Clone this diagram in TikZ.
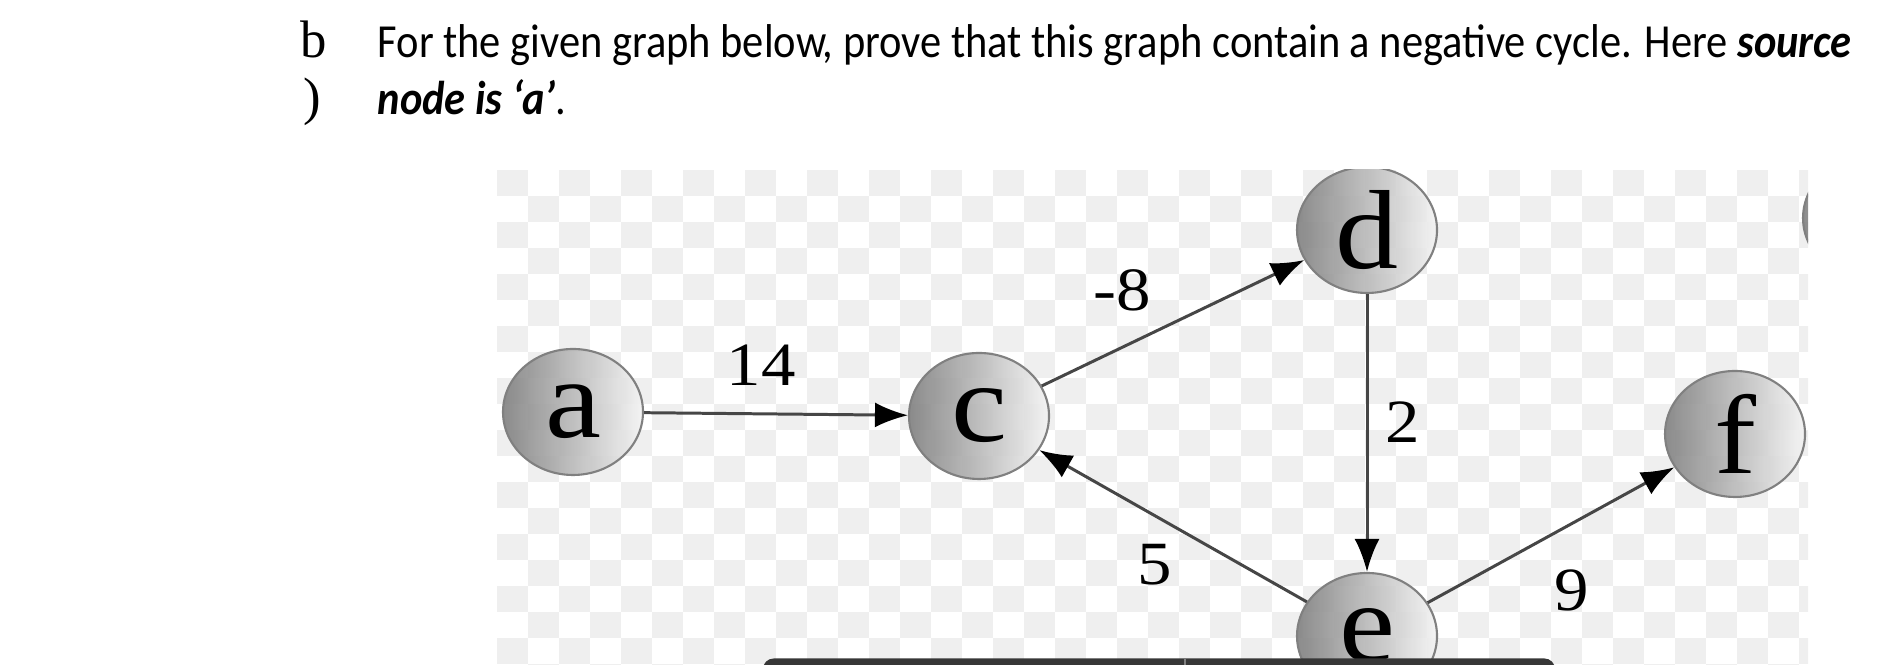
\documentclass[tikz,border=0pt]{standalone}
\usepackage{fontspec}
\setmainfont{Carlito}
\newfontfamily\graphfont{Liberation Serif}
\usepackage{xcolor}
\usepackage{graphicx}
\usepackage{tikz}
\usetikzlibrary{positioning}
\usetikzlibrary{arrows.meta}
\usetikzlibrary{shapes.geometric}
\definecolor{checker}{RGB}{239,239,239}
\definecolor{nodedark}{RGB}{130,130,130}
\definecolor{nodelight}{RGB}{243,243,243}
\definecolor{edgegray}{RGB}{70,70,70}
\definecolor{barcolor}{RGB}{55,55,55}
\newcommand{\wide}[1]{\scalebox{1.12}[1]{#1}}
\newcommand{\narrow}[1]{\scalebox{0.895}[1]{#1}}

\begin{document}
\begin{tikzpicture}
        \tikzset{vertex/.style = {ellipse, draw=gray, line width=0.6pt, left color=nodedark, right color=nodelight, fill opacity=0.92, text opacity=1, minimum width=1.4cm, minimum height=1.26cm, inner sep=0pt, font=\graphfont\fontsize{32}{32}\selectfont}}
        \tikzset{edge/.style = {-{Latex[length=3.3mm,width=2.5mm,color=black]}, edgegray, line width=0.85pt}}
        \tikzset{weight/.style = {font=\graphfont\fontsize{17.5}{17.5}\selectfont}}

        \useasboundingbox (0,0) rectangle (19,6.65);

        % question
        \node[anchor=base west, inner sep=0, font=\graphfont\fontsize{15}{15}\selectfont] (item) at (3.0,6.07) {b};
        \node[anchor=base west, inner sep=0, font=\graphfont\fontsize{15}{15}\selectfont] (paren) at (3.03,5.5) {)};
        \node[anchor=base west, inner sep=0, font=\fontsize{13.5}{15}\selectfont] (line1) at (3.77,6.07) {\narrow{For the given graph below, prove that this graph contain a negative cycle. Here \textbf{\textit{source}}}};
        \node[anchor=base west, inner sep=0, font=\fontsize{13.5}{15}\selectfont] (line2) at (3.77,5.5) {\narrow{\textbf{\textit{node is ‘a’}}.}};

        % checker background
        \begin{scope}
        \clip (4.97,0) rectangle (18.08,4.95);
        \foreach \i in {0,2,...,42} {
          \foreach \j in {0,2,...,18} {
            \fill[checker] ({4.97+\i*0.31},{4.95-\j*0.26}) rectangle ++(0.31,-0.26);
            \fill[checker] ({4.97+(\i+1)*0.31},{4.95-(\j+1)*0.26}) rectangle ++(0.31,-0.26);
          }
        }

        % vertices
        \node[vertex] (a) at (5.73,2.53) {\wide{a}};
        \node[vertex] (c) at (9.79,2.49) {\wide{c}};
        \node[vertex] (d) at (13.67,4.35) {\wide{d}};
        \node[vertex] (e) at (13.67,0.29) {\wide{e}};
        \node[vertex] (f) at (17.35,2.31) {\wide{f}};
        \node[vertex] (g) at (18.73,4.47) {};

        % edges
        \draw[edge] (a) -- (c);
        \draw[edge] (c) -- (d);
        \draw[edge] (d) -- (e);
        \draw[edge] (e) -- (c);
        \draw[edge] (e) -- (f);

        % weights
        \node[weight] (w14) at (7.61,3.0) {\wide{14}};
        \node[weight] (w8) at (11.22,3.75) {\wide{-8}};
        \node[weight] (w2) at (14.03,2.43) {\wide{2}};
        \node[weight] (w5) at (11.55,1.0) {\wide{5}};
        \node[weight] (w9) at (15.72,0.75) {\wide{9}};
        \end{scope}

        % bar at bottom
        \fill[barcolor, rounded corners=3pt] (7.63,-0.2) rectangle (15.55,0.065);
        \draw[gray] (11.85,0) -- (11.85,0.06);
        
        \end{tikzpicture}
\end{document}
